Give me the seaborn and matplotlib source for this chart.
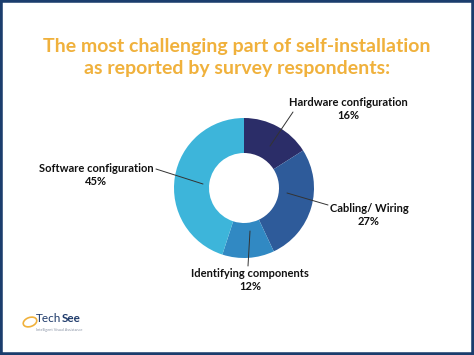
import matplotlib
matplotlib.use('Agg')
import matplotlib.pyplot as plt
import seaborn as sns
from matplotlib.patches import Rectangle, Arc

# Survey data
categories = ['Hardware configuration', 'Cabling/ Wiring', 'Identifying components', 'Software configuration']
shares = [16, 27, 12, 45]
colors = ['#2b2d68', '#2e5b9a', '#3189c3', '#3db5da']

sns.set_theme(style="white")
plt.rcParams['font.family'] = ['Lato', 'DejaVu Sans']

W, H = 474, 355
fig = plt.figure(figsize=(W / 100, H / 100), dpi=100)
ax = fig.add_axes([0, 0, 1, 1])

cx, cy = 244, H - 188
wedges, _ = ax.pie(shares, colors=colors, startangle=90, counterclock=False,
                   center=(cx, cy), radius=70, frame=True,
                   wedgeprops=dict(width=35, linewidth=0))
ax.set_xlim(0, W)
ax.set_ylim(0, H)
ax.axis('off')

# leader lines and labels (image coords, y flipped)
def y(v):
    return H - v

label_pos = [(348, 109), (369, 215), (250, 280), (96, 175)]
lines = [((270, 146), (293, 112)), ((287, 193), (328, 205)),
         ((250, 231), (248, 266)), ((203, 184), (156, 169))]
for name, val, (lx, ly), (p0, p1) in zip(categories, shares, label_pos, lines):
    ax.plot([p0[0], p1[0]], [y(p0[1]), y(p1[1])], color='#333333', lw=0.7)
    ax.text(lx, y(ly), f"{name}\n{val}%", ha='center', va='center',
            fontsize=8, fontweight='bold', color='#111111', linespacing=1.3)

ax.text(W / 2, y(57.5), "The most challenging part of self-installation\nas reported by survey respondents:",
        ha='center', va='center', fontsize=14, fontweight='bold', color='#f0b13c',
        linespacing=1.3)

# logo
ax.add_patch(Arc((30, y(322)), 14, 9, angle=20, color='#f0b13c', lw=1.2))
t1 = ax.text(36, y(319), "Tech", ha='left', va='center', fontsize=8.5, color='#1f3b6b')
fig.canvas.draw()
bb = t1.get_window_extent()
ax.text(bb.x1, y(319), "See", ha='left', va='center', fontsize=8.5, fontweight='bold', color='#1f3b6b')
ax.text(36, y(330), "Intelligent Visual Assistance", ha='left', va='center', fontsize=2.8, color='#8a94a6')

# frame
fig.patches.append(Rectangle((0, 0), 1, 1, transform=fig.transFigure, fill=False,
                             edgecolor='#1b3d6d', lw=4))

fig.savefig('out.png', dpi=100)
